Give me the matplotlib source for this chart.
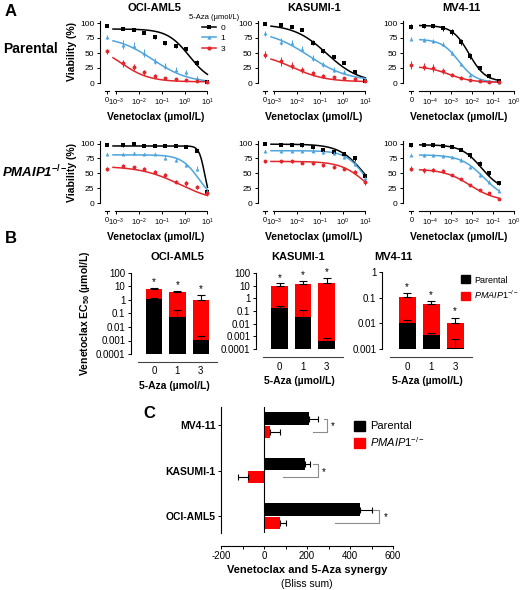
import numpy as np
import matplotlib.pyplot as plt
import matplotlib.transforms as mtransforms
from matplotlib.lines import Line2D
from matplotlib.patches import Patch
from matplotlib.ticker import NullLocator

plt.rcParams['font.family'] = ['Liberation Sans', 'DejaVu Sans']
plt.rcParams['mathtext.fontset'] = 'custom'
plt.rcParams['mathtext.rm'] = 'Liberation Sans'
plt.rcParams['mathtext.it'] = 'Liberation Sans:italic'
plt.rcParams['mathtext.bf'] = 'Liberation Sans:bold'
plt.rcParams['mathtext.bfit'] = 'Liberation Sans:italic:bold'
plt.rcParams['axes.linewidth'] = 0.8
plt.rcParams['axes.unicode_minus'] = False

# ---------------- data: panel A (viability %, first value = no venetoclax) ----
AZA_LEVELS = ['0', '1', '3']
DOSES_OCI_KAS = [0.002, 0.006, 0.017, 0.05, 0.14, 0.42, 1.2, 3.5, 10]
DOSES_MV4 = [0.00005, 0.00014, 0.0004, 0.0011, 0.0031, 0.0083, 0.024, 0.063, 0.19]

OCI_PAR_VIAB = [[95, 90, 89, 84, 77, 67, 61, 56, 34, 2],
                [77, 64, 62, 50, 37, 28, 22, 18, 8, 3],
                [53, 33, 26, 18, 12, 8, 6, 5, 4, 2]]
OCI_PAR_ERR = [[2, 2, 3, 2, 3, 3, 3, 3, 4, 1],
               [3, 8, 6, 6, 5, 5, 4, 4, 4, 2],
               [4, 6, 5, 4, 3, 2, 2, 1, 1, 1]]
KAS_PAR_VIAB = [[99, 96, 94, 88, 67, 53, 44, 34, 18, 3],
                [83, 69, 67, 57, 42, 31, 22, 18, 8, 6],
                [47, 36, 29, 22, 16, 12, 10, 8, 6, 4]]
KAS_PAR_ERR = [[2, 3, 3, 2, 4, 3, 3, 3, 3, 1],
               [4, 6, 5, 4, 5, 4, 4, 3, 3, 1],
               [6, 7, 6, 5, 4, 3, 2, 2, 2, 1]]
MV4_PAR_VIAB = [[94, 95, 95, 91, 85, 69, 45, 25, 11, 4],
                [74, 72, 70, 65, 50, 31, 14, 5, 3, 2],
                [30, 27, 25, 20, 14, 9, 5, 3, 2, 2]]
MV4_PAR_ERR = [[4, 3, 3, 4, 5, 5, 5, 4, 2, 1],
               [3, 3, 3, 3, 3, 3, 2, 1, 1, 1],
               [6, 6, 6, 5, 3, 2, 1, 1, 1, 1]]
OCI_KO_VIAB = [[98, 97, 99, 96, 96, 96, 96, 95, 88, 19],
               [82, 82, 84, 82, 82, 76, 72, 64, 58, 20],
               [57, 63, 60, 58, 53, 47, 36, 33, 27, 16]]
OCI_KO_ERR = [[2, 2, 2, 2, 2, 2, 2, 3, 3, 3],
              [2, 2, 2, 2, 2, 4, 3, 4, 4, 4],
              [3, 3, 3, 2, 3, 4, 3, 4, 3, 3]]
KAS_KO_VIAB = [[99, 98, 98, 97, 94, 90, 86, 82, 75, 45],
               [88, 88, 88, 88, 87, 86, 84, 78, 66, 42],
               [70, 70, 70, 68, 67, 64, 61, 58, 52, 35]]
KAS_KO_ERR = [[2, 2, 2, 2, 3, 3, 3, 3, 4, 4],
              [2, 2, 2, 2, 2, 3, 3, 4, 4, 4],
              [2, 2, 2, 2, 3, 3, 3, 3, 4, 5]]
MV4_KO_VIAB = [[97, 98, 97, 96, 95, 90, 80, 66, 50, 33],
               [81, 80, 80, 79, 77, 72, 61, 47, 36, 21],
               [58, 55, 56, 54, 47, 40, 30, 22, 16, 7]]
MV4_KO_ERR = [[2, 2, 2, 2, 2, 3, 4, 4, 4, 3],
              [2, 2, 2, 2, 2, 3, 3, 3, 3, 2],
              [4, 4, 3, 3, 2, 2, 2, 2, 2, 1]]

# fitted 4-parameter curves: top, bottom, logEC50, hill
OCI_PAR_FIT = [(90, 0, 0.2, 0.9), (78, 0, -1.4, 0.55), (65, 2, -2.8, 0.7)]
KAS_PAR_FIT = [(98, 0, -0.7, 0.6), (88, 3, -1.5, 0.5), (50, 2, -2.2, 0.6)]
MV4_PAR_FIT = [(96, 2, -2.15, 1.1), (73, 1, -2.65, 1.06), (28, 1, -3.1, 0.8)]
OCI_KO_FIT = [(96, 0, 0.88, 3.5), (81, 0, 0.62, 1.13), (62, 0, -0.2, 0.5)]
KAS_KO_FIT = [(99, 0, 0.95, 0.8), (88, 0, 1.0, 1.0), (70, 0, 1.0, 0.8)]
MV4_KO_FIT = [(98, 20, -1.55, 0.9), (81, 5, -1.45, 0.8), (57, 3, -2.1, 0.7)]

# ---------------- data: panel B (EC50, umol/L) ----
AZA_TICKS = ['0', '1', '3']
OCI_EC50_PAR = [1.2, 0.055, 0.0011]
OCI_EC50_PAR_ERR = [0.3, 0.12, 0.0009]
OCI_EC50_KO = [6.5, 3.8, 1.0]
OCI_EC50_KO_ERR = [1.5, 1.0, 1.4]
KAS_EC50_PAR = [0.17, 0.032, 0.0004]
KAS_EC50_PAR_ERR = [0.08, 0.09, 0.0004]
KAS_EC50_KO = [9.5, 13, 16]
KAS_EC50_KO_ERR = [5.5, 11, 28]
MV4_EC50_PAR = [0.0105, 0.0034, 0.00105]
MV4_EC50_PAR_ERR = [0.003, 0.0008, 0.0015]
MV4_EC50_KO = [0.105, 0.057, 0.0105]
MV4_EC50_KO_ERR = [0.045, 0.015, 0.006]

# ---------------- data: panel C (Bliss sum) ----
C_LINES = ['OCI-AML5', 'KASUMI-1', 'MV4-11']
C_PAR = [445, 190, 207]
C_PAR_ERR = [55, 25, 42]
C_KO = [75, -75, 28]
C_KO_ERR = [27, 45, 47]

COLS = ['#000000', '#4ea4dc', '#e3262c']
MARKERS = ['s', '^', 'o']
BAR_RED = '#ff0000'

W, H = 520, 590
fig = plt.figure(figsize=(W / 100, H / 100), dpi=100)


def box(l, t, r, b):
    return fig.add_axes([l / W, 1 - b / H, (r - l) / W, (b - t) / H])


def ftext(x, y, s, **kw):
    fig.text(x / W, 1 - y / H, s, **kw)


def dose_panel(ax, doses, zero_x, viab, err, fits, xlim, decades, seg, curve_lo):
    logd = np.log10(doses)
    xpts = np.concatenate([[zero_x], logd])
    for k in range(3):
        ax.errorbar(xpts, viab[k], yerr=err[k], fmt=MARKERS[k], color=COLS[k],
                    ms=2.8, mew=0, elinewidth=0.7, capsize=1.3, capthick=0.7,
                    clip_on=False, zorder=3)
        top, bot, c, h = fits[k]
        xc = np.linspace(curve_lo, logd[-1], 200)
        ax.plot(xc, bot + (top - bot) / (1 + 10 ** ((xc - c) * h)),
                color=COLS[k], lw=1.1, clip_on=False)
    ax.set_xlim(xlim)
    ax.set_ylim(0, 104)
    ax.set_yticks([0, 25, 50, 75, 100])
    ax.set_xticks([zero_x] + decades,
                  ['0'] + ['$10^{%d}$' % d for d in decades])
    for s in ('top', 'right'):
        ax.spines[s].set_visible(False)
    ax.spines['bottom'].set_position(('outward', 5.5))
    ax.spines['bottom'].set_bounds(*seg)
    tr = mtransforms.offset_copy(ax.get_xaxis_transform(), fig=fig, y=-5.5, units='points')
    ax.plot([zero_x - 0.1, zero_x + 0.1], [0, 0], transform=tr, color='k', lw=0.8, clip_on=False)
    ax.tick_params(length=2.5, width=0.7, labelsize=6, pad=1.5)
    ax.tick_params(axis='x', labelsize=5.3, pad=2)
    ax.set_xlabel('Venetoclax (µmol/L)', fontsize=7.5, fontweight='bold', labelpad=3)


# ---------------- panel A ----
a_rows = [
    (20.6, 83.0, [OCI_PAR_VIAB, KAS_PAR_VIAB, MV4_PAR_VIAB], [OCI_PAR_ERR, KAS_PAR_ERR, MV4_PAR_ERR],
     [OCI_PAR_FIT, KAS_PAR_FIT, MV4_PAR_FIT]),
    (141.2, 203.0, [OCI_KO_VIAB, KAS_KO_VIAB, MV4_KO_VIAB], [OCI_KO_ERR, KAS_KO_ERR, MV4_KO_ERR],
     [OCI_KO_FIT, KAS_KO_FIT, MV4_KO_FIT]),
]
a_cols = [
    (100, 212, DOSES_OCI_KAS, -3.42, (-3.72, 1.2), [-3, -2, -1, 0, 1], (-3.05, 1.0), -3.15),
    (258, 370, DOSES_OCI_KAS, -3.42, (-3.72, 1.2), [-3, -2, -1, 0, 1], (-3.05, 1.0), -3.15),
    (403, 515, DOSES_MV4, -4.9, (-5.3, 0.05), [-4, -3, -2, -1, 0], (-4.55, 0.0), -4.5),
]
for r, (top, bot, viabs, errs, fits) in enumerate(a_rows):
    for c, (l, rr, doses, zx, xlim, dec, seg, clo) in enumerate(a_cols):
        ax = box(l, top, rr, bot)
        dose_panel(ax, doses, zx, viabs[c], errs[c], fits[c], xlim, dec, seg, clo)
        if c == 0:
            ax.set_ylabel('Viability (%)', fontsize=7.5, fontweight='bold', labelpad=2)

ftext(5, 11, 'A', fontsize=12, fontweight='bold', va='center')
for x, name in [(154, 'OCI-AML5'), (314, 'KASUMI-1'), (461, 'MV4-11')]:
    ftext(x, 8, name, fontsize=8, fontweight='bold', ha='center', va='center')
ftext(3, 49, 'Parental', fontsize=10, fontweight='bold', va='center')
ftext(2, 172, r'$\mathbfit{PMAIP1}^{\mathbf{-/-}}$', fontsize=9.5, va='center')

a_handles = [Line2D([], [], color=COLS[k], marker=MARKERS[k], ms=3, mew=0, lw=1.1)
             for k in range(3)]
fig.legend(a_handles, AZA_LEVELS, title='5-Aza (µmol/L)', loc='upper left',
           bbox_to_anchor=(183 / W, 1 - 8 / H), frameon=False, fontsize=6,
           title_fontsize=5.5, handlelength=1.6, handletextpad=0.6,
           labelspacing=0.35, borderpad=0.2)


# ---------------- panel B ----
def ec50_panel(ax, par, par_err, ko, ko_err, base, top, xlim):
    x = np.arange(3)
    ax.set_yscale('log')
    ax.bar(x, np.array(ko) - base, bottom=base, width=0.7, color=BAR_RED, zorder=1)
    ax.errorbar(x, ko, yerr=[[0, 0, 0], ko_err], fmt='none', ecolor='k',
                elinewidth=0.8, capsize=3, capthick=0.8, zorder=2)
    ax.bar(x, np.array(par) - base, bottom=base, width=0.7, color='k', zorder=3)
    ax.errorbar(x, par, yerr=[[0, 0, 0], par_err], fmt='none', ecolor='k',
                elinewidth=0.8, capsize=3, capthick=0.8, zorder=4)
    for i in range(3):
        ax.text(x[i], (ko[i] + ko_err[i]) * 1.15, '*', ha='center', va='bottom', fontsize=7)
    ax.set_ylim(base, top)
    ax.set_xlim(xlim)
    ticks = 10.0 ** np.arange(np.log10(base), np.log10(top) + 0.5)
    ax.set_yticks(ticks, ['%g' % t for t in ticks])
    ax.yaxis.set_minor_locator(NullLocator())
    ax.set_xticks(x, AZA_TICKS)
    for s in ('top', 'right'):
        ax.spines[s].set_visible(False)
    ax.spines['bottom'].set_position(('outward', 6))
    ax.spines['bottom'].set_bounds(-0.7, 2.7)
    ax.spines['bottom'].set_color('#444444')
    ax.tick_params(axis='x', length=0, labelsize=7, pad=3)
    ax.tick_params(axis='y', length=2.5, width=0.7, labelsize=7, pad=1.5)
    ax.set_xlabel('5-Aza (µmol/L)', fontsize=7.5, fontweight='bold', labelpad=3)


axb1 = box(131, 273, 217, 354)
ec50_panel(axb1, OCI_EC50_PAR, OCI_EC50_PAR_ERR, OCI_EC50_KO, OCI_EC50_KO_ERR, 1e-4, 100, (-1.0, 2.7))
axb1.set_ylabel(r'Venetoclax EC$_{\mathbf{50}}$ (µmol/L)', fontsize=7.5, fontweight='bold', labelpad=3)
axb2 = box(256, 273, 343, 349)
ec50_panel(axb2, KAS_EC50_PAR, KAS_EC50_PAR_ERR, KAS_EC50_KO, KAS_EC50_KO_ERR, 1e-4, 100, (-1.0, 2.7))
axb3 = box(382, 272, 472, 349)
ec50_panel(axb3, MV4_EC50_PAR, MV4_EC50_PAR_ERR, MV4_EC50_KO, MV4_EC50_KO_ERR, 1e-3, 1, (-1.05, 2.7))

ftext(5, 238, 'B', fontsize=12, fontweight='bold', va='center')
for x, name in [(177, 'OCI-AML5'), (298, 'KASUMI-1'), (393, 'MV4-11')]:
    ftext(x, 257, name, fontsize=8, fontweight='bold', ha='center', va='center')

geno_handles = [Patch(color='k'), Patch(color=BAR_RED)]
geno_labels = ['Parental', r'$\it{PMAIP1}^{-/-}$']
fig.legend(geno_handles, geno_labels, loc='upper left', bbox_to_anchor=(456 / W, 1 - 270 / H),
           frameon=False, fontsize=6.5, handlelength=1.0, handleheight=1.0,
           handletextpad=0.4, labelspacing=0.5, borderpad=0.1)

# ---------------- panel C ----
axc = box(221, 407, 393, 533)
yc = np.arange(3)
off, hgt = 0.145, 0.27
axc.barh(yc + off, C_PAR, height=hgt, color='k')
axc.barh(yc - off, C_KO, height=hgt, color=BAR_RED)
par_lo = [e if v < 0 else 0 for v, e in zip(C_PAR, C_PAR_ERR)]
par_hi = [e if v >= 0 else 0 for v, e in zip(C_PAR, C_PAR_ERR)]
ko_lo = [e if v < 0 else 0 for v, e in zip(C_KO, C_KO_ERR)]
ko_hi = [e if v >= 0 else 0 for v, e in zip(C_KO, C_KO_ERR)]
axc.errorbar(C_PAR, yc + off, xerr=[par_lo, par_hi], fmt='none', ecolor='k',
             elinewidth=0.8, capsize=2.5, capthick=0.8)
axc.errorbar(C_KO, yc - off, xerr=[ko_lo, ko_hi], fmt='none', ecolor='k',
             elinewidth=0.8, capsize=2.5, capthick=0.8)
# significance brackets: (category, top arm start, bottom arm start, right edge, star x)
brackets = [(0, 507, 330, 535, 565), (1, 228, 88, 251, 280), (2, 280, 228, 295, 322)]
for cat, xt, xb, xr, xs in brackets:
    axc.plot([xt, xr, xr, xb], [cat + off, cat + off, cat - off, cat - off],
             color='#8c8c8c', lw=0.8)
    axc.text(xs, cat - 0.02, '*', fontsize=7, ha='center', va='center')
axc.set_xlim(-200, 600)
axc.set_ylim(-0.37, 2.4)
axc.set_yticks(yc, C_LINES, fontweight='bold')
axc.set_xticks([-200, 0, 200, 400, 600])
axc.set_xticks([-100, 100, 300, 500], minor=True)
axc.axvline(0, color='k', lw=0.8)
for s in ('top', 'right'):
    axc.spines[s].set_visible(False)
axc.spines['bottom'].set_position(('outward', 9))
axc.tick_params(axis='y', length=2.5, width=0.7, labelsize=7.5, pad=1.5)
axc.tick_params(axis='x', which='both', length=2.5, width=0.7, labelsize=7, pad=1.5)
axc.tick_params(axis='x', which='minor', length=2)
axc.set_xlabel('Venetoclax and 5-Aza synergy', fontsize=8, fontweight='bold', labelpad=3)
ftext(307, 584, '(Bliss sum)', fontsize=7.5, ha='center', va='center')
ftext(143, 413, 'C', fontsize=12, fontweight='bold', va='center')

fig.legend(geno_handles, geno_labels, loc='upper left', bbox_to_anchor=(347 / W, 1 - 414 / H),
           frameon=False, fontsize=8, handlelength=1.0, handleheight=1.0,
           handletextpad=0.5, labelspacing=0.35, borderpad=0.1)

fig.savefig('out.png', dpi=100)
